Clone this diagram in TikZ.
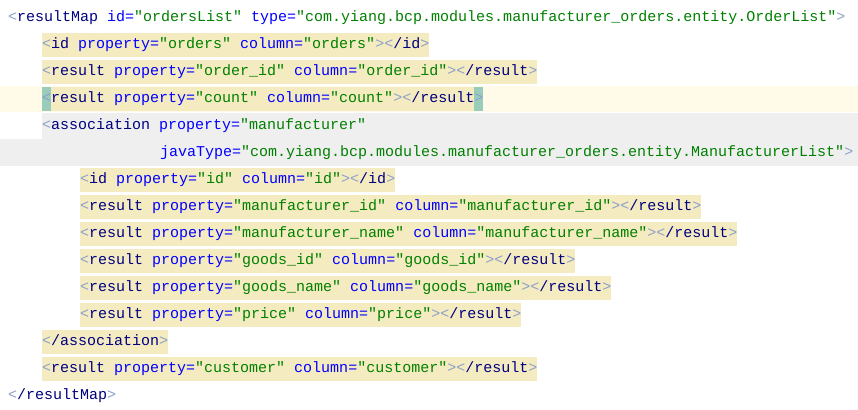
\documentclass[tikz,border=0pt]{standalone}
\usepackage{fontspec}
\setmonofont{Liberation Mono}
\definecolor{tg}{HTML}{000080}
\definecolor{br}{HTML}{8CA0C8}
\definecolor{at}{HTML}{0000FF}
\definecolor{vl}{HTML}{008000}
\definecolor{hy}{HTML}{F5EBC0}
\definecolor{cur}{HTML}{FFFBE8}
\definecolor{gr}{HTML}{EFEFEF}
\definecolor{tl}{HTML}{99CCBB}
\newcommand{\Bl}{\textcolor{br}{<}}
\newcommand{\Br}{\textcolor{br}{>}}
\newcommand{\Tg}[1]{\textcolor{tg}{#1}}
\newcommand{\At}[1]{\textcolor{at}{#1}}
\newcommand{\Vl}[1]{\textcolor{vl}{"#1"}}
\newcommand{\Eq}{\textcolor{at}{=}}
\begin{document}
\begin{tikzpicture}[x=1pt,y=-1pt,
  code/.style={anchor=west,inner sep=0pt,font=\ttfamily\fontsize{15}{15}\selectfont,text height=11pt,text depth=4pt,minimum height=24pt},
  hl/.style={code,fill=hy}]
\fill[white] (0,0) rectangle (858,409);
\fill[cur] (0,86) rectangle (858,112);
\fill[gr] (42,113) rectangle (858,139);
\fill[gr] (0,139) rectangle (858,166);
\node[code] (l1) at (8,18) {\Bl\Tg{resultMap} \At{id}\Eq\Vl{ordersList} \At{type}\Eq\Vl{com.yiang.bcp.modules.manufacturer\_orders.entity.OrderList}\Br};
\node[hl] (l2) at (42,45) {\Bl\Tg{id} \At{property}\Eq\Vl{orders} \At{column}\Eq\Vl{orders}\Br\Bl\Tg{/id}\Br};
\node[hl] (l3) at (42,72) {\Bl\Tg{result} \At{property}\Eq\Vl{order\_id} \At{column}\Eq\Vl{order\_id}\Br\Bl\Tg{/result}\Br};
\node[hl] (l4) at (42,99) {\phantom{<}\Tg{result} \At{property}\Eq\Vl{count} \At{column}\Eq\Vl{count}\Br\Bl\Tg{/result}\phantom{>}};
\node[code,fill=tl] (l4a) at (l4.west) {\Bl};
\node[code,fill=tl,anchor=east] (l4b) at (l4.east) {\Br};
\node[code] (l5) at (42,126) {\Bl\Tg{association} \At{property}\Eq\Vl{manufacturer}};
\node[code] (l6) at (160,153) {\At{javaType}\Eq\Vl{com.yiang.bcp.modules.manufacturer\_orders.entity.ManufacturerList}\Br};
\node[hl] (l7) at (80,180) {\Bl\Tg{id} \At{property}\Eq\Vl{id} \At{column}\Eq\Vl{id}\Br\Bl\Tg{/id}\Br};
\node[hl] (l8) at (80,207) {\Bl\Tg{result} \At{property}\Eq\Vl{manufacturer\_id} \At{column}\Eq\Vl{manufacturer\_id}\Br\Bl\Tg{/result}\Br};
\node[hl] (l9) at (80,234) {\Bl\Tg{result} \At{property}\Eq\Vl{manufacturer\_name} \At{column}\Eq\Vl{manufacturer\_name}\Br\Bl\Tg{/result}\Br};
\node[hl] (l10) at (80,261) {\Bl\Tg{result} \At{property}\Eq\Vl{goods\_id} \At{column}\Eq\Vl{goods\_id}\Br\Bl\Tg{/result}\Br};
\node[hl] (l11) at (80,288) {\Bl\Tg{result} \At{property}\Eq\Vl{goods\_name} \At{column}\Eq\Vl{goods\_name}\Br\Bl\Tg{/result}\Br};
\node[hl] (l12) at (80,315) {\Bl\Tg{result} \At{property}\Eq\Vl{price} \At{column}\Eq\Vl{price}\Br\Bl\Tg{/result}\Br};
\node[hl] (l13) at (42,342) {\Bl\Tg{/association}\Br};
\node[hl] (l14) at (42,369) {\Bl\Tg{result} \At{property}\Eq\Vl{customer} \At{column}\Eq\Vl{customer}\Br\Bl\Tg{/result}\Br};
\node[code] (l15) at (8,396) {\Bl\Tg{/resultMap}\Br};
\end{tikzpicture}
\end{document}
